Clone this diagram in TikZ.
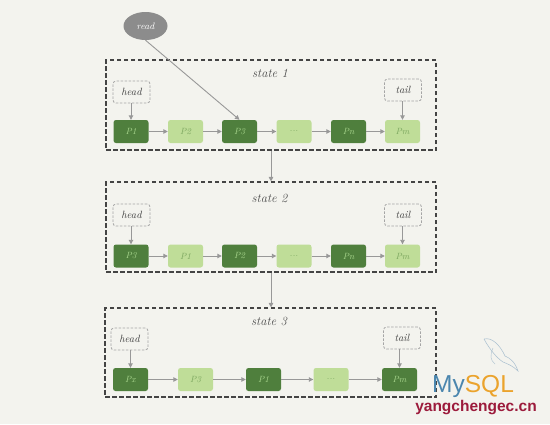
\documentclass[tikz,border=0pt]{standalone}
\usepackage{fontspec}
\setmainfont{Liberation Sans}
\newfontfamily\handfont{Latin Modern Roman}
\usetikzlibrary{arrows.meta,shapes.geometric}
\definecolor{bgc}{HTML}{F3F3EE}
\definecolor{darkg}{HTML}{4F7F3D}
\definecolor{lightg}{HTML}{BFDD98}
\definecolor{txtd}{HTML}{A9D78E}
\definecolor{txtl}{HTML}{7BA65E}
\definecolor{conn}{HTML}{989898}
\definecolor{framec}{HTML}{444444}
\definecolor{ptrc}{HTML}{A5A5A5}
\definecolor{wmred}{HTML}{9C1B3C}
\definecolor{myblue}{HTML}{4B86AE}
\definecolor{myorange}{HTML}{EBA32C}
\definecolor{dolphin}{HTML}{A9BFCF}
\tikzset{
  x=1pt,y=-1pt,
  dnode/.style={fill=darkg,rounded corners=2.5pt,minimum width=35pt,minimum height=23pt,inner sep=0pt,text=txtd,font=\handfont\itshape\fontsize{9}{10}\selectfont},
  lnode/.style={fill=lightg,rounded corners=2.5pt,minimum width=35pt,minimum height=23pt,inner sep=0pt,text=txtl,font=\handfont\itshape\fontsize{9}{10}\selectfont},
  ptr/.style={draw=ptrc,line width=0.8pt,dash pattern=on 2.5pt off 1.5pt,rounded corners=3pt,minimum width=37pt,minimum height=22pt,inner sep=0pt,text=black!75,font=\handfont\itshape\fontsize{10.5}{11}\selectfont},
  frm/.style={draw=framec,line width=1.1pt,dash pattern=on 4.5pt off 2.5pt,fill=none},
  lab/.style={text=black!70,font=\handfont\itshape\fontsize{12.5}{14}\selectfont},
  link/.style={draw=conn,line width=0.9pt,-{Triangle[length=4.5pt,width=4.5pt,fill=conn]}}
}
\begin{document}
\begin{tikzpicture}
\useasboundingbox (0,0) rectangle (550,424);
\fill[bgc] (0,0) rectangle (550,424);
% frames
\node[frm,minimum width=330pt,minimum height=90pt,inner sep=0pt] (s1) at (271,105) {};
\node[frm,minimum width=330pt,minimum height=90pt,inner sep=0pt] (s2) at (271,227) {};
\node[frm,minimum width=331pt,minimum height=89pt,inner sep=0pt] (s3) at (270.5,352.5) {};
\node[lab] (l1) at (270,73) {state 1};
\node[lab] (l2) at (269.5,198) {state 2};
\node[lab] (l3) at (269,321) {state 3};
% read
\node[ellipse,fill=black!45,minimum width=44pt,minimum height=28pt,inner sep=0pt,text=white,font=\handfont\itshape\fontsize{9.5}{10}\selectfont] (read) at (145.5,26) {read};
% state 1
\node[ptr] (h1) at (131.5,92) {head};
\node[ptr] (t1) at (403,90) {tail};
\node[dnode] (a1) at (131,131.5) {P1};
\node[lnode] (a2) at (185.5,131.5) {P2};
\node[dnode] (a3) at (239.5,131.5) {P3};
\node[lnode] (a4) at (294,131.5) {...};
\node[dnode] (a5) at (348.5,131.5) {Pn};
\node[lnode] (a6) at (402.5,131.5) {Pm};
% state 2
\node[ptr] (h2) at (131.5,215) {head};
\node[ptr] (t2) at (403,215) {tail};
\node[dnode] (b1) at (131,256) {P3};
\node[lnode] (b2) at (185.5,256) {P1};
\node[dnode] (b3) at (239.5,256) {P2};
\node[lnode] (b4) at (294,256) {...};
\node[dnode] (b5) at (348.5,256) {Pn};
\node[lnode] (b6) at (402.5,256) {Pm};
% state 3
\node[ptr] (h3) at (129.5,339) {head};
\node[ptr] (t3) at (402,338) {tail};
\node[dnode] (c1) at (130.5,379.5) {Px};
\node[lnode] (c2) at (195.5,379.5) {P3};
\node[dnode] (c3) at (263.5,379.5) {P1};
\node[lnode] (c4) at (331,379.5) {...};
\node[dnode] (c5) at (399.5,379.5) {Pm};
% connectors
\draw[link] (read.south) -- (a3.north);
\foreach \g in {a,b}{
  \draw[link] (\g1) -- (\g2);
  \draw[link] (\g2) -- (\g3);
  \draw[link] (\g3) -- (\g4);
  \draw[link] (\g4) -- (\g5);
  \draw[link] (\g5) -- (\g6);
}
\draw[link] (c1) -- (c2);
\draw[link] (c2) -- (c3);
\draw[link] (c3) -- (c4);
\draw[link] (c4) -- (c5);
\draw[link] (a1.north |- h1.south) -- (a1.north);
\draw[link] (a6.north |- t1.south) -- (a6.north);
\draw[link] (b1.north |- h2.south) -- (b1.north);
\draw[link] (b6.north |- t2.south) -- (b6.north);
\draw[link] (c1.north |- h3.south) -- (c1.north);
\draw[link] (c5.north |- t3.south) -- (c5.north);
\draw[link] (s1.south) -- (s2.north);
\draw[link] (s2.south) -- (s2.south |- s3.north);
% watermark
\draw[draw=dolphin,line width=0.5pt,fill=none]
  (484,339) .. controls (492,337) and (500,345) .. (505,356)
  .. controls (510,358) and (515,362) .. (518,371)
  .. controls (513,366) and (508,364) .. (503,362)
  .. controls (497,358) and (490,350) .. (484,339);
\draw[draw=dolphin,line width=0.4pt] (493,348) .. controls (490,355) and (490,360) .. (495,364);
\node[anchor=base west,inner sep=0pt,font=\fontsize{24.5}{28}\selectfont] (my) at (432,392) {\textcolor{myblue}{My}\textcolor{myorange}{SQL}};
\node[anchor=base,inner sep=0pt,font=\bfseries\fontsize{15.5}{17}\selectfont,text=wmred] (wm) at (476,411) {yangchengec.cn};
\end{tikzpicture}
\end{document}
